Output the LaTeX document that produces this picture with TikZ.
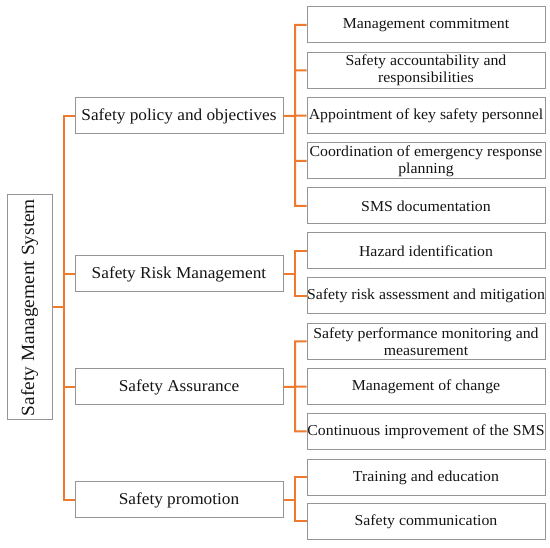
\documentclass[tikz,border=0pt]{standalone}
\usepackage{fontspec}
\setmainfont[FakeStretch=1.04]{Liberation Serif}
\definecolor{conncol}{HTML}{EE7A2E}
\definecolor{boxcol}{HTML}{959595}
\definecolor{txtcol}{HTML}{141414}
\tikzset{
  box/.style={draw=boxcol, line width=1pt, rectangle, inner sep=0pt, align=center, text=txtcol},
  rootbox/.style={box, rotate=90, minimum width=225pt, minimum height=45pt, font=\fontsize{18.6}{21}\selectfont},
  lvlone/.style={box, minimum width=208pt, minimum height=36pt, font=\fontsize{16.6}{19}\selectfont},
  lvltwo/.style={box, minimum width=238pt, minimum height=36pt, font=\fontsize{15.2}{17}\selectfont},
  conn/.style={draw=conncol, line width=2pt}
}
\begin{document}
\begin{tikzpicture}[x=1pt,y=-1pt]
\useasboundingbox (0,0) rectangle (550,548);
% root
\node[rootbox] (root) at (29.5,307.5) {Safety Management System};
% level one
\node[lvlone] (p1) at (179,116) {Safety policy and objectives};
\node[lvlone] (p2) at (179,274) {Safety Risk Management};
\node[lvlone] (p3) at (179,387) {Safety Assurance};
\node[lvlone] (p4) at (179,500) {Safety promotion};
% level two
\node[lvltwo] (c1) at (426,25) {Management commitment};
\node[lvltwo] (c2) at (426,70.5) {Safety accountability and\\responsibilities};
\node[lvltwo] (c3) at (426,115.5) {Appointment of key safety personnel};
\node[lvltwo] (c4) at (426,161) {Coordination of emergency response\\planning};
\node[lvltwo] (c5) at (426,206) {SMS documentation};
\node[lvltwo] (c6) at (426,251) {Hazard identification};
\node[lvltwo] (c7) at (426,296) {Safety risk assessment and mitigation};
\node[lvltwo] (c8) at (426,341.5) {Safety performance monitoring and\\measurement};
\node[lvltwo] (c9) at (426,386.5) {Management of change};
\node[lvltwo] (c10) at (426,431.5) {Continuous improvement of the SMS};
\node[lvltwo] (c11) at (426,477.5) {Training and education};
\node[lvltwo] (c12) at (426,521.5) {Safety communication};
% connector columns
\coordinate (tx) at (64,0);
\coordinate (gx) at (295,0);
% trunk
\draw[conn] (p1.west) -- (p1.west -| tx) -- (p4.west -| tx) -- (p4.west)
  (p2.west) -- (p2.west -| tx)
  (p3.west) -- (p3.west -| tx)
  (root.south) -- (root.south -| tx);
% group 1
\draw[conn] (c1.west) -- (c1.west -| gx) -- (c5.west -| gx) -- (c5.west)
  (p1.east) -- (c3.west)
  (c2.west) -- (c2.west -| gx)
  (c4.west) -- (c4.west -| gx);
% group 2
\draw[conn] (c6.west) -- (c6.west -| gx) -- (c7.west -| gx) -- (c7.west)
  (p2.east) -- (p2.east -| gx);
% group 3
\draw[conn] (c8.west) -- (c8.west -| gx) -- (c10.west -| gx) -- (c10.west)
  (p3.east) -- (c9.west);
% group 4
\draw[conn] (c11.west) -- (c11.west -| gx) -- (c12.west -| gx) -- (c12.west)
  (p4.east) -- (p4.east -| gx);
\end{tikzpicture}
\end{document}
